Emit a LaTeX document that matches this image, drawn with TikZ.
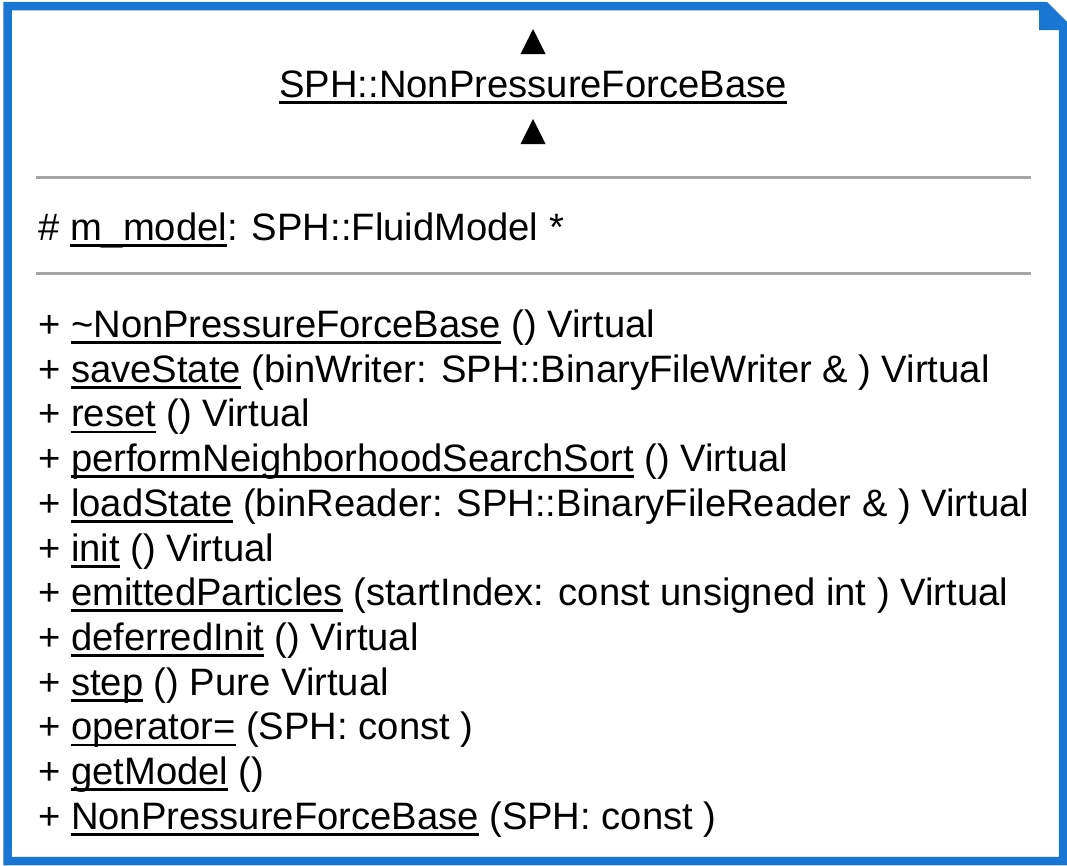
\documentclass[tikz,border=0pt]{standalone}
\usepackage{fontspec}
\setmainfont{Liberation Sans}
\definecolor{umlblue}{RGB}{25,118,210}
\definecolor{sepgray}{RGB}{165,165,165}
\newcommand\uln[1]{\setbox0\hbox{#1}\rlap{\rule[-6.5pt]{\wd0}{2.8pt}}\box0\relax}
\begin{document}
\begin{tikzpicture}[x=1pt,y=-1pt,
  txt/.style={anchor=base west,inner sep=0pt,font=\fontsize{38.2}{44}\selectfont},
  tri/.style={fill=black,draw=none},
  sep/.style={draw=sepgray,line width=3pt},
  frame/.style={draw=umlblue,line width=8.5pt,line join=miter}]
\useasboundingbox (0,0) rectangle (1067,865);
\fill[white] (0,0) rectangle (1067,865);
% frame
\draw[frame] (7.5,6) -- (1043,6) -- (1063,26) -- (1063,861) -- (7.5,861) -- cycle;
\fill[umlblue] (1039,2) -- (1047,2) -- (1067,22) -- (1067,30) -- (1039,30) -- cycle;
% triangles
\fill[tri] (533,29) -- (545.5,54) -- (520.5,54) -- cycle;
\fill[tri] (533,119) -- (545.5,144) -- (520.5,144) -- cycle;
% title
\node[txt,anchor=base] (title) at (533,97.5) {\uln{SPH::NonPressureForceBase}};
% separators
\draw[sep] (36,177) -- (1031,177);
\draw[sep] (36,273) -- (1031,273);
% attribute
\node[txt] (attr) at (38,240.5) {\# \uln{m\_model}: SPH::FluidModel *};
% methods
\node[txt] (m1) at (38,337.5) {+ \uln{\textasciitilde NonPressureForceBase} () Virtual};
\node[txt] (m2) at (38,382.2) {+ \uln{saveState} (binWriter: SPH::BinaryFileWriter \& ) Virtual};
\node[txt] (m3) at (38,426.9) {+ \uln{reset} () Virtual};
\node[txt] (m4) at (38,471.6) {+ \uln{performNeighborhoodSearchSort} () Virtual};
\node[txt] (m5) at (38,516.3) {+ \uln{loadState} (binReader: SPH::BinaryFileReader \& ) Virtual};
\node[txt] (m6) at (38,561) {+ \uln{init} () Virtual};
\node[txt] (m7) at (38,605.7) {+ \uln{emittedParticles} (startIndex: const unsigned int ) Virtual};
\node[txt] (m8) at (38,650.4) {+ \uln{deferredInit} () Virtual};
\node[txt] (m9) at (38,695.1) {+ \uln{step} () Pure Virtual};
\node[txt] (m10) at (38,739.8) {+ \uln{operator=} (SPH: const )};
\node[txt] (m11) at (38,784.5) {+ \uln{getModel} ()};
\node[txt] (m12) at (38,829.2) {+ \uln{NonPressureForceBase} (SPH: const )};
\end{tikzpicture}
\end{document}
